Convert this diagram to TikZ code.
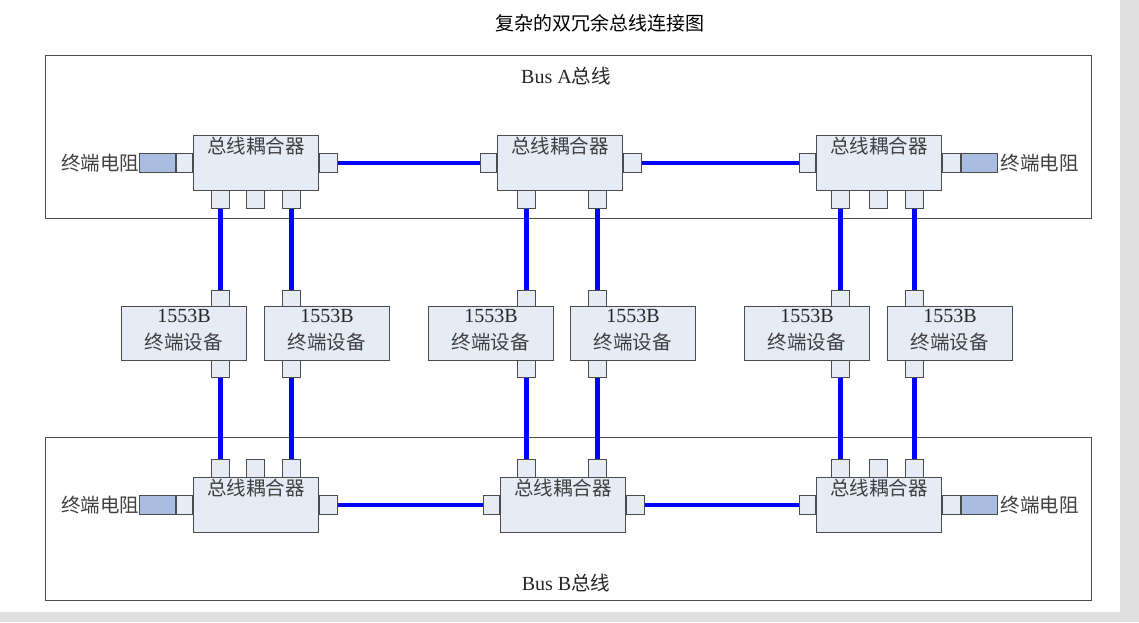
\documentclass[tikz,border=0pt]{standalone}
\usepackage{fontspec}
\setmainfont{Liberation Serif}
\newfontfamily\cjk{Noto Sans CJK SC}
\begin{document}
\begin{tikzpicture}[x=1pt,y=-1pt,
  box/.style={draw=black!70,fill=boxc,line width=0.9pt,inner sep=0pt,anchor=north west},
  res/.style={draw=black!70,fill=resc,line width=0.9pt,inner sep=0pt,anchor=north west},
  bus/.style={draw=blue,line width=4.5pt},
  lbl/.style={font=\cjk\fontsize{19.5}{19.5}\selectfont,text=black!75,inner sep=0pt},
  lat/.style={font=\fontsize{20}{20}\selectfont,text=black!85,inner sep=0pt}]
\definecolor{boxc}{HTML}{E6ECF6}
\definecolor{resc}{HTML}{A8BDE0}
\useasboundingbox (0,0) rectangle (1139,622);
\fill[black!12] (0,0) rectangle (1139,622);
\fill[white] (0,0) rectangle (1120,612);
\node[font=\cjk\fontsize{19}{19}\selectfont,inner sep=0pt] (title) at (600,23) {复杂的双冗余总线连接图};
\node[draw=black!70,line width=0.9pt,minimum width=1046pt,minimum height=163pt,inner sep=0pt,anchor=north west] (busA) at (45,55) {};
\node[draw=black!70,line width=0.9pt,minimum width=1046pt,minimum height=163pt,inner sep=0pt,anchor=north west] (busB) at (45,437) {};
\node[lat] (la) at (566,76) {Bus A{\cjk\fontsize{19.5}{19.5}\selectfont 总线}};
\node[lat] (lb) at (566,583) {Bus B{\cjk\fontsize{19.5}{19.5}\selectfont 总线}};
% couplers
\newcommand\coupler[3]{%
  \node[box,minimum width=125pt,minimum height=55pt] (#1) at (#2,#3) {};
  \node[lbl,anchor=north] at ([yshift=-2pt]#1.north) {总线耦合器};
  \node[box,minimum width=16pt,minimum height=19pt,anchor=north east] (#1L) at ([yshift=-18pt]#1.north west) {};
  \node[box,minimum width=18pt,minimum height=19pt] (#1R) at ([yshift=-18pt]#1.north east) {};
}
\coupler{A1}{193}{135}
\coupler{A2}{497}{135}
\coupler{A3}{816}{135}
\coupler{B1}{193}{477}
\coupler{B2}{500}{477}
\coupler{B3}{816}{477}
% resistors
\node[res,minimum width=36pt,minimum height=19pt,anchor=north east] (rA1) at (A1L.north west) {};
\node[res,minimum width=36pt,minimum height=19pt] (rA3) at (A3R.north east) {};
\node[res,minimum width=36pt,minimum height=19pt,anchor=north east] (rB1) at (B1L.north west) {};
\node[res,minimum width=36pt,minimum height=19pt] (rB3) at (B3R.north east) {};
\node[lbl,anchor=east] at (rA1.west) {终端电阻};
\node[lbl,anchor=west] at ([xshift=3pt]rA3.east) {终端电阻};
\node[lbl,anchor=east] at (rB1.west) {终端电阻};
\node[lbl,anchor=west] at ([xshift=3pt]rB3.east) {终端电阻};
% coupler stub ports
\tikzset{pt/.style={box,minimum width=18pt,minimum height=18pt}}
\foreach \n/\x in {pa1/211,pa2/246,pa3/282,pa4/517,pa5/588,pa6/831,pa7/869,pa8/905}
  \node[pt] (\n) at (\x,190) {};
\foreach \n/\x in {pb1/211,pb2/246,pb3/282,pb4/517,pb5/588,pb6/831,pb7/869,pb8/905}
  \node[pt] (\n) at (\x,459) {};
% devices
\foreach \n/\x in {d1/121,d2/264,d3/428,d4/570,d5/744,d6/887}{
  \node[box,minimum width=125pt,minimum height=54pt] (\n) at (\x,306) {};
  \node[lat,anchor=north] at ([yshift=-3pt]\n.north) {1553B};
  \node[lbl,anchor=north] at ([yshift=-27pt]\n.north) {终端设备};
}
\foreach \n/\x in {t1/211,t2/282,t3/517,t4/588,t5/831,t6/905}{
  \node[pt,minimum height=16pt] (\n) at (\x,290) {};
  \node[pt,minimum height=17pt] (\n-b) at (\x,360) {};
}
% buses
\draw[bus] (A1R.east) -- (A2L.west);
\draw[bus] (A2R.east) -- (A3L.west);
\draw[bus] (B1R.east) -- (B2L.west);
\draw[bus] (B2R.east) -- (B3L.west);
\draw[bus] (pa1.south) -- (t1.north);
\draw[bus] (pa3.south) -- (t2.north);
\draw[bus] (pa4.south) -- (t3.north);
\draw[bus] (pa5.south) -- (t4.north);
\draw[bus] (pa6.south) -- (t5.north);
\draw[bus] (pa8.south) -- (t6.north);
\draw[bus] (t1-b.south) -- (pb1.north);
\draw[bus] (t2-b.south) -- (pb3.north);
\draw[bus] (t3-b.south) -- (pb4.north);
\draw[bus] (t4-b.south) -- (pb5.north);
\draw[bus] (t5-b.south) -- (pb6.north);
\draw[bus] (t6-b.south) -- (pb8.north);
\end{tikzpicture}
\end{document}
